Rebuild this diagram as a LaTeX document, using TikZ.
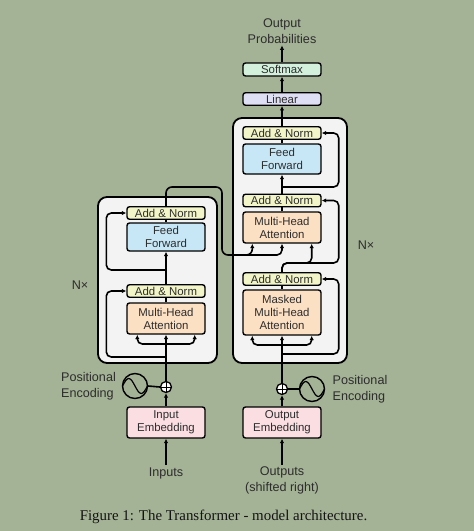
\documentclass[tikz,border=0pt]{standalone}
\usepackage{fontspec}
\setmainfont{Liberation Sans}
\newfontfamily\capfont{Liberation Serif}
\usetikzlibrary{arrows.meta,calc}
\definecolor{bgc}{RGB}{164,178,150}
\definecolor{outerfill}{RGB}{242,243,242}
\definecolor{anfill}{RGB}{242,245,200}
\definecolor{fffill}{RGB}{200,231,246}
\definecolor{mhafill}{RGB}{252,224,196}
\definecolor{embfill}{RGB}{250,222,226}
\definecolor{smfill}{RGB}{210,240,220}
\definecolor{linfill}{RGB}{222,222,244}
\definecolor{txt}{RGB}{45,45,45}
\definecolor{captxt}{RGB}{20,20,20}
\tikzset{
  blk/.style={draw=black, line width=1.4pt, rounded corners=2.5pt, minimum width=78pt,
    inner sep=0pt, align=center, text=txt, font=\fontsize{11.4}{13}\selectfont},
  anbox/.style={blk, fill=anfill, minimum height=12.5pt},
  ffbox/.style={blk, fill=fffill},
  mhabox/.style={blk, fill=mhafill},
  embbox/.style={blk, fill=embfill, minimum height=31pt},
  smbox/.style={blk, fill=smfill, minimum height=13pt},
  linbox/.style={blk, fill=linfill, minimum height=12.5pt},
  outerbox/.style={draw=black, line width=1.8pt, rounded corners=9pt, fill=outerfill, inner sep=0pt},
  conn/.style={line width=1.6pt, draw=black},
  arr/.style={conn, -{Latex[length=4.5pt,width=4.5pt]}},
  lbl/.style={text=txt, font=\fontsize{12.6}{15.5}\selectfont, align=center, inner sep=2pt},
  pecirc/.style={draw=black, circle, line width=1.4pt, minimum size=25pt, inner sep=0pt},
  pluscirc/.style={draw=black, fill=white, circle, line width=1.3pt, minimum size=11pt, inner sep=0pt},
}
\begin{document}
\begin{tikzpicture}[x=1pt,y=-1pt]
\useasboundingbox (0,0) rectangle (474,531);
\fill[bgc] (0,0) rectangle (474,531);

% outer boxes
\node[outerbox, minimum width=119pt, minimum height=166pt] (encBox) at (157.5,280) {};
\node[outerbox, minimum width=114pt, minimum height=245pt] (decBox) at (290,240.5) {};

% encoder blocks
\node[embbox] (inEmb) at (166,422.5) {Input\\Embedding};
\node[mhabox, minimum height=31pt] (eMHA) at (166,318.5) {Multi-Head\\Attention};
\node[anbox] (eAN1) at (166,291) {Add \& Norm};
\node[ffbox, minimum height=28pt] (eFF) at (166,237) {Feed\\Forward};
\node[anbox] (eAN2) at (166,213) {Add \& Norm};

% decoder blocks
\node[embbox] (outEmb) at (282,422.5) {Output\\Embedding};
\node[mhabox, minimum height=45pt] (dMMHA) at (282,312.5) {Masked\\Multi-Head\\Attention};
\node[anbox] (dAN1) at (282,279) {Add \& Norm};
\node[mhabox, minimum height=31pt] (dMHA) at (282,227.5) {Multi-Head\\Attention};
\node[anbox] (dAN2) at (282,200.5) {Add \& Norm};
\node[ffbox, minimum height=30pt] (dFF) at (282,159) {Feed\\Forward};
\node[anbox] (dAN3) at (282,133) {Add \& Norm};
\node[linbox] (lin) at (282,99) {Linear};
\node[smbox] (sm) at (282,69.5) {Softmax};

% labels
\node[lbl] (outProb) at (282,31) {Output\\Probabilities};
\node[lbl] (inputs) at (166,473) {Inputs};
\node[lbl] (outputs) at (282,480.5) {Outputs\\(shifted right)};
\node[lbl, align=left] (ePElbl) at (88.5,386) {Positional\\Encoding};
\node[lbl, align=left] (dPElbl) at (360,389) {Positional\\Encoding};
\node[lbl] (eN) at (80,285) {N×};
\node[lbl] (dN) at (366,245) {N×};

% positional encoding and plus
\node[pecirc] (ePE) at (135,386) {};
\node[pluscirc] (ePlus) at (166,387) {};
\node[pecirc] (dPE) at (312,389) {};
\node[pluscirc] (dPlus) at (282,389) {};
\foreach \c in {ePE,dPE}{
  \draw[line width=1.2pt] ([xshift=-12.5pt]\c.center) sin ++(6.25pt,7.5pt) cos ++(6.25pt,-7.5pt) sin ++(6.25pt,-7.5pt) cos ++(6.25pt,7.5pt);
}
\foreach \p in {ePlus,dPlus}{
  \draw[line width=1pt] (\p.north) -- (\p.south) (\p.west) -- (\p.east);
}
\draw[conn] (ePE.east) -- (ePlus.west);
\draw[conn] (dPE.west) -- (dPlus.east);

% encoder connectors
\draw[arr] (inputs.north) -- (inEmb.south);
\draw[arr] (inEmb.north) -- (ePlus.south);
\draw[arr] (ePlus.north) -- (eMHA.south);
\coordinate (eB) at (166,344);
\draw[arr, rounded corners=5pt] (eB) -| ([xshift=11pt]eMHA.south west);
\draw[arr, rounded corners=5pt] (eB) -| ([xshift=-11pt]eMHA.south east);
\coordinate (eR1) at (166,357);
\draw[arr, rounded corners=5pt] (eR1) -| ([xshift=-20pt]eAN1.west) -- (eAN1.west);
\draw[conn] (eMHA.north) -- (eAN1.south);
\draw[arr] (eAN1.north) -- (eFF.south);
\coordinate (eR2) at (166,270);
\draw[arr, rounded corners=5pt] (eR2) -| ([xshift=-20pt]eAN2.west) -- (eAN2.west);
\draw[conn] (eFF.north) -- (eAN2.south);

% encoder to decoder
\coordinate (c1) at (166,187);
\coordinate (c2) at (222,255);
\coordinate (c3) at (240,255);
\draw[arr, rounded corners=6pt] (eAN2.north) -- (c1) -| (c2) -| ([xshift=10pt]dMHA.south west);
\draw[arr, rounded corners=5pt] (c3) -| (dMHA.south);

% decoder connectors
\draw[arr] (outputs.north) -- (outEmb.south);
\draw[arr] (outEmb.north) -- (dPlus.south);
\draw[arr] (dPlus.north) -- (dMMHA.south);
\coordinate (dB) at (282,345);
\draw[arr, rounded corners=5pt] (dB) -| ([xshift=10pt]dMMHA.south west);
\draw[arr, rounded corners=5pt] (dB) -| ([xshift=-10pt]dMMHA.south east);
\coordinate (dR1) at (282,354);
\draw[arr, rounded corners=5pt] (dR1) -| ([xshift=17pt]dAN1.east) -- (dAN1.east);
\draw[conn] (dMMHA.north) -- (dAN1.south);
\coordinate (dS) at (282,263);
\draw[arr, rounded corners=5pt] (dAN1.north) -- (dS) -| ([xshift=-10pt]dMHA.south east);
\draw[arr, rounded corners=5pt] (dAN1.north) -- (dS) -| ([xshift=17pt]dAN2.east) -- (dAN2.east);
\draw[conn] (dMHA.north) -- (dAN2.south);
\draw[arr] (dAN2.north) -- (dFF.south);
\coordinate (dR3) at (282,187);
\draw[arr, rounded corners=5pt] (dR3) -| ([xshift=17pt]dAN3.east) -- (dAN3.east);
\draw[conn] (dFF.north) -- (dAN3.south);
\draw[arr] (dAN3.north) -- (lin.south);
\draw[arr] (lin.north) -- (sm.south);
\draw[arr] (sm.north) -- (outProb.south);

% caption
\node[font=\capfont\fontsize{14.9}{17}\selectfont, text=captxt] (cap) at (223.5,517) {Figure 1: The Transformer - model architecture.};
\end{tikzpicture}
\end{document}
